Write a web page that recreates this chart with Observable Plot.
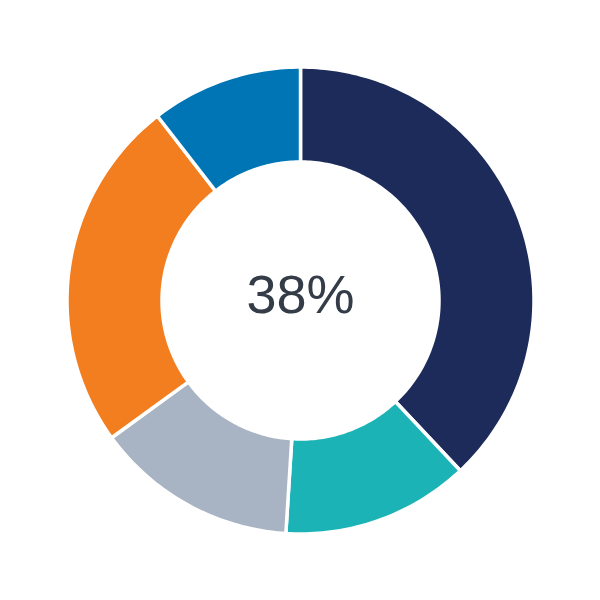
<!DOCTYPE html>
<html>
<head>
<meta charset="utf-8">
<script src="https://cdn.jsdelivr.net/npm/d3@7"></script>
<script src="https://cdn.jsdelivr.net/npm/@observablehq/plot@0.6"></script>
<style>
  html, body { margin: 0; padding: 0; background: #fff; }
</style>
</head>
<body>
<div id="chart"></div>
<script>
const categories = ["A", "B", "C", "D", "E"];
const values = [38, 13, 14, 24.5, 10.5];
const colors = ["#1c2b5a", "#1bb3b6", "#a8b4c3", "#f37e20", "#0075b5"];
const centerLabel = "38%";

const outerR = 233.5, innerR = 138.5;
const pie = d3.pie().sort(null).value(d => d.value);
const arcs = pie(categories.map((c, i) => ({key: c, value: values[i]})));

const pts = [];
for (const a of arcs) {
  const n = Math.max(4, Math.ceil((a.endAngle - a.startAngle) * 180 / Math.PI));
  const outer = [], inner = [];
  for (let k = 0; k <= n; k++) {
    const t = a.startAngle + (a.endAngle - a.startAngle) * k / n;
    outer.push({key: a.data.key, x: outerR * Math.sin(t), y: outerR * Math.cos(t)});
    inner.push({key: a.data.key, x: innerR * Math.sin(t), y: innerR * Math.cos(t)});
  }
  pts.push(...outer, ...inner.reverse());
}

const chart = Plot.plot({
  width: 600,
  height: 600,
  margin: 0,
  x: {domain: [-300, 300], axis: null},
  y: {domain: [-300, 300], axis: null},
  color: {domain: categories, range: colors},
  marks: [
    Plot.line(pts, {x: "x", y: "y", z: "key", fill: "key", stroke: "white", strokeWidth: 3.5, curve: "linear-closed"}),
    Plot.text([centerLabel], {x: () => 0, y: () => 0, text: d => d, fontSize: 54, fill: "#333c47", fontFamily: "Liberation Sans, Arial, sans-serif", dy: -5})
  ]
});
document.getElementById("chart").append(chart);
</script>
</body>
</html>
